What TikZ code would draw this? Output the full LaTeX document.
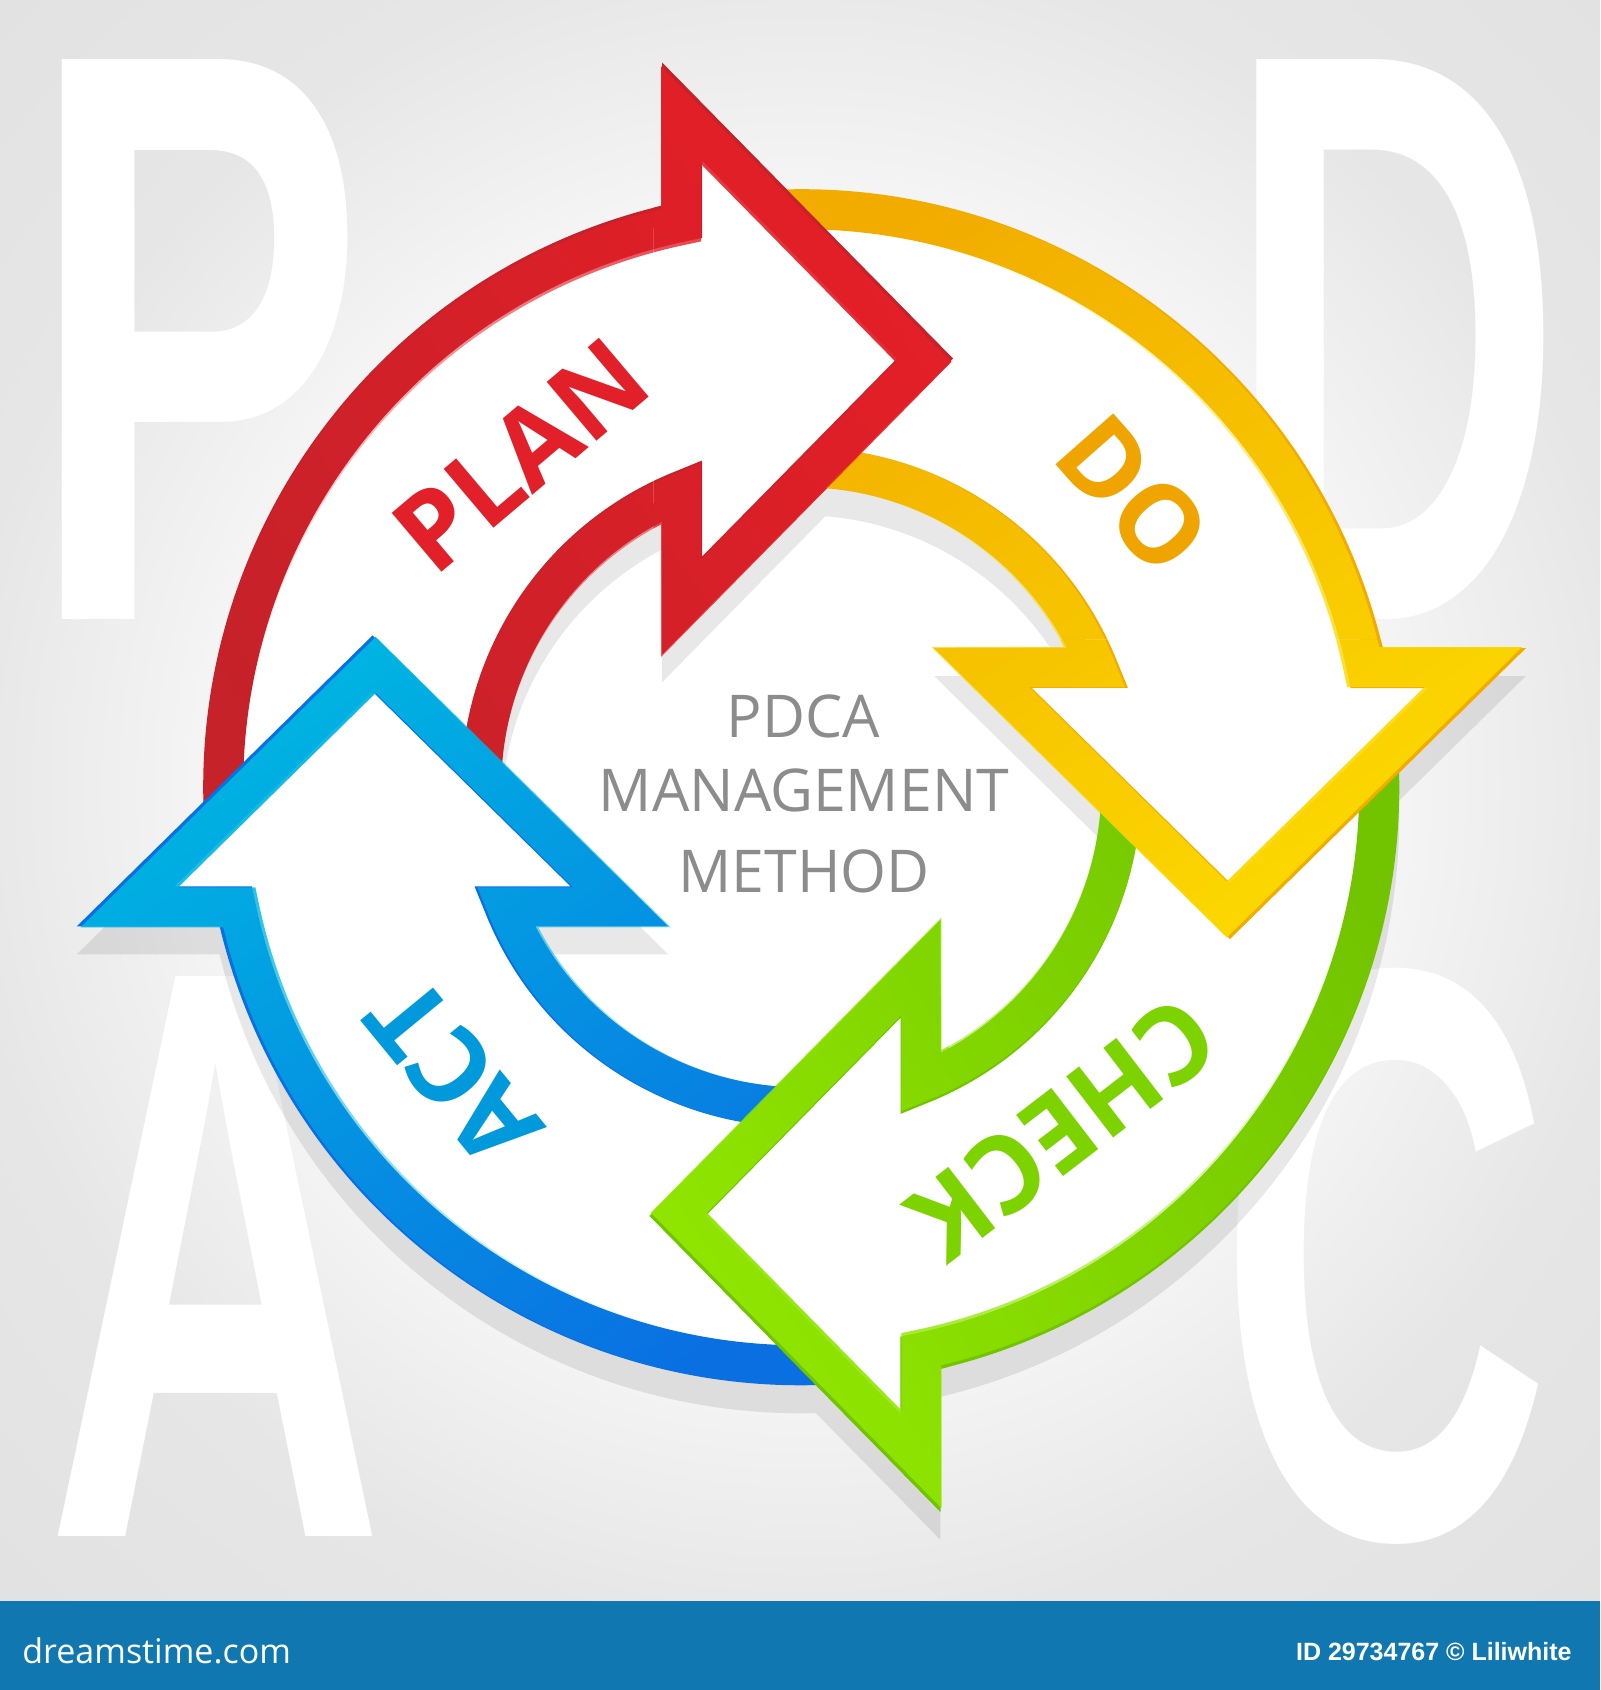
\documentclass[tikz,border=0pt]{standalone}
\usepackage{fontspec}
\setmainfont{Open Sans}
\newfontfamily\bigfont{Liberation Sans}
\usetikzlibrary{fadings}
\definecolor{bgA}{HTML}{E6E6E6}
\definecolor{bgB}{HTML}{E1E1E1}
\definecolor{bgC}{HTML}{D9D9D9}
\definecolor{redA}{HTML}{C6222A}
\definecolor{redB}{HTML}{E41F27}
\definecolor{yelA}{HTML}{F2AC00}
\definecolor{yelB}{HTML}{FCD800}
\definecolor{grnA}{HTML}{72C400}
\definecolor{grnB}{HTML}{90E600}
\definecolor{bluA}{HTML}{0A70E2}
\definecolor{bluB}{HTML}{00B4E2}
\definecolor{txtgray}{HTML}{8C8C8C}
\definecolor{bannerblue}{HTML}{1077B1}
\definecolor{plancol}{HTML}{E2202A}
\definecolor{docol}{HTML}{F0A400}
\definecolor{checkcol}{HTML}{7DD300}
\definecolor{actcol}{HTML}{0099DB}
\pgfdeclareradialshading{bgshade}{\pgfpoint{0bp}{0bp}}{color(0bp)=(white); color(10.3bp)=(white); color(21.2bp)=(bgA); color(30bp)=(bgB); color(50bp)=(bgC)}
\tikzfading[name=arrowfade, left color=transparent!100, right color=transparent!0]
\newcommand\arrowpath[1]{({186-#1}:578) arc[start angle={186-#1}, end angle={101.906-#1}, radius=578] -- ({100.008-#1}:686.19) -- ({73.90-#1}:446.25) -- ({123.27-#1}:217.38) -- ({111.88-#1}:320) arc[start angle={111.88-#1}, end angle={186-#1}, radius=320]}
\newcommand\headclip[1]{({100.96-#1}:776.36) -- ({67.17-#1}:465.18) -- ({147.15-#1}:175.69) -- cycle}
\newcommand\drawarrow[4]{%
  \path[fill=white] \arrowpath{#1};
  \draw[line width=20pt, draw=#2] \arrowpath{#1};
  \draw[line width=20pt, draw=#3, path fading=arrowfade, fading angle=#4] \arrowpath{#1};}
\tikzset{
  bigl/.style={inner sep=0pt, text=white, font=\bigfont\bfseries\fontsize{407}{410}\selectfont, anchor=base},
  lab/.style={inner sep=0pt, font=\bfseries\fontsize{54}{54}\selectfont},
  ctext/.style={inner sep=0pt, text=txtgray, font=\fontsize{29.5}{30}\selectfont, anchor=base}
}
\begin{document}
\begin{tikzpicture}[x=0.5pt, y=0.5pt]
\useasboundingbox (-801.25,-902.75) rectangle (798.75,787.25);
\begin{scope}
  \clip (-801.25,-902.75) rectangle (798.75,787.25);
  \shade[shading=bgshade] (-1000,-1000) rectangle (1000,1000);
\end{scope}
% big background letters
\node[bigl, xscale=0.62] (bigP) at (-604.6,167.25) {P};
\node[bigl, xscale=0.575] (bigD) at (592.9,167.25) {D};
\node[bigl, xscale=0.576] (bigA) at (-585.75,-748.75) {A};
\node[bigl, xscale=0.566] (bigC) at (584,-748.75) {C};
% shadows
\begin{scope}[yshift=-14pt, transparency group, opacity=0.09]
  \foreach \k in {0,90,180,270}{\path[fill=black, draw=black, line width=20pt] \arrowpath{\k};}
\end{scope}
% arrows
\drawarrow{0}{redA}{redB}{35}
\drawarrow{90}{yelA}{yelB}{-55}
\drawarrow{180}{grnA}{grnB}{-145}
\drawarrow{270}{bluA}{bluB}{125}
% heads on top
\begin{scope}\clip \headclip{0}; \drawarrow{0}{redA}{redB}{35}\end{scope}
\begin{scope}\clip \headclip{90}; \drawarrow{90}{yelA}{yelB}{-55}\end{scope}
\begin{scope}\clip \headclip{180}; \drawarrow{180}{grnA}{grnB}{-145}\end{scope}
% labels
\node[lab, text=plancol, rotate=40.2] (plan) at (130.2:435) {PLAN};
\node[lab, text=docol, rotate=-48.6] (do) at (41.4:443) {DO};
\node[lab, text=checkcol, rotate=-142.5] (check) at (-52.5:430) {CHECK};
\node[lab, text=actcol, rotate=129.4] (act) at (219.4:450) {ACT};
% centre text
\node[ctext] (l1) at (2.25,49.25) {PDCA};
\node[ctext] (l2) at (2.75,-24.75) {MANAGEMENT};
\node[ctext] (l3) at (2.75,-105.75) {METHOD};
% banner
\fill[bannerblue] (-801.25,-902.75) rectangle (798.75,-813.75);
\node[anchor=base west, inner sep=0pt, text=white, font=\fontsize{17}{17}\selectfont] (ds) at (-779.25,-875.75) {dreamstime.com};
\node[anchor=base east, inner sep=0pt, text=white, font=\bigfont\bfseries\fontsize{12.5}{12.5}\selectfont] (id) at (770.75,-872.75) {ID 29734767 © Liliwhite};
\end{tikzpicture}
\end{document}
